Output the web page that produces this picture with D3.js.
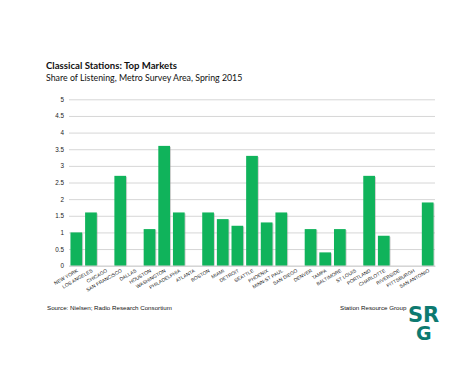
<!DOCTYPE html>
<html>
<head>
<meta charset="utf-8">
<script src="https://cdn.jsdelivr.net/npm/d3@7"></script>
<style>
  body { margin: 0; background: #fff; }
  svg { display: block; }
</style>
</head>
<body>
<div id="chart"></div>
<script>
// markets, in the order of the original chart
var markets = ["NEW YORK", "LOS ANGELES", "CHICAGO", "SAN FRANCISCO", "DALLAS", "HOUSTON",
    "WASHINGTON", "PHILADELPHIA", "ATLANTA", "BOSTON", "MIAMI", "DETROIT", "SEATTLE",
    "PHOENIX", "MINN-ST PAUL", "SAN DIEGO", "DENVER", "TAMPA", "BALTIMORE", "ST LOUIS",
    "PORTLAND", "CHARLOTTE", "RIVERSIDE", "PITTSBURGH", "SAN ANTONIO"];
// share of listening (null = no classical station)
var share = [1.0, 1.6, null, 2.7, null, 1.1, 3.6, 1.6, null, 1.6, 1.4, 1.2, 3.3,
    1.3, 1.6, null, 1.1, 0.4, 1.1, null, 2.7, 0.9, null, null, 1.9];
var yTicks = [0, 0.5, 1, 1.5, 2, 2.5, 3, 3.5, 4, 4.5, 5];

var width = 474, height = 366;
var plotLeft = 69, plotRight = 435, plotTop = 99.3, plotBottom = 265.7;

var svg = d3.select("#chart").append("svg")
    .attr("width", width)
    .attr("height", height);

var x = d3.scaleBand()
    .domain(markets)
    .range([plotLeft, plotRight])
    .paddingInner(0.2)
    .paddingOuter(0.1);

var y = d3.scaleLinear()
    .domain([0, 5])
    .range([plotBottom, plotTop]);

// titles
svg.append("text")
    .attr("x", 46).attr("y", 69)
    .style("font-family", "Lato, 'Open Sans', sans-serif")
    .style("font-weight", "bold")
    .style("font-size", "9.6px")
    .attr("fill", "#111")
    .text("Classical Stations: Top Markets");

svg.append("text")
    .attr("x", 46).attr("y", 81)
    .style("font-family", "Lato, 'Open Sans', sans-serif")
    .style("font-size", "8.8px")
    .attr("fill", "#111")
    .text("Share of Listening, Metro Survey Area, Spring 2015");

// grid + y labels
var yAxis = d3.axisLeft(y)
    .tickValues(yTicks)
    .tickSize(-(plotRight - plotLeft))
    .tickPadding(5)
    .tickFormat(d3.format("~g"));

var gy = svg.append("g")
    .attr("transform", "translate(" + plotLeft + ",0)")
    .call(yAxis);
gy.select(".domain").remove();
gy.selectAll("line").attr("stroke", "#d6d6d6").attr("stroke-width", 1);
gy.selectAll("text")
    .attr("fill", "#222")
    .style("font-family", "'Liberation Sans', Arial, sans-serif")
    .style("font-size", "6.3px");

var data = markets.map(function(m, i) { return {m: m, v: share[i]}; })
    .filter(function(d) { return d.v != null; });

// faint shadow to the right of each bar
svg.selectAll(".shadow")
    .data(data)
    .enter().append("rect")
    .attr("class", "shadow")
    .attr("x", function(d) { return x(d.m) + 1; })
    .attr("y", function(d) { return y(d.v) + 1; })
    .attr("width", x.bandwidth())
    .attr("height", function(d) { return y(0) - y(d.v) - 1; })
    .attr("fill", "#9a9a9a")
    .attr("opacity", 0.45);

svg.selectAll(".bar")
    .data(data)
    .enter().append("rect")
    .attr("class", "bar")
    .attr("x", function(d) { return x(d.m); })
    .attr("y", function(d) { return y(d.v); })
    .attr("width", x.bandwidth())
    .attr("height", function(d) { return y(0) - y(d.v); })
    .attr("fill", "#10b35b");

// x axis labels, rotated
var xAxis = d3.axisBottom(x).tickSize(0).tickPadding(0);
var gx = svg.append("g")
    .attr("transform", "translate(0," + plotBottom + ")")
    .call(xAxis);
gx.select(".domain").attr("stroke", "#cfcfcf");
gx.selectAll("text")
    .attr("text-anchor", "end")
    .attr("y", 0)
    .attr("dy", 0)
    .attr("transform", "translate(2,6) rotate(-30)")
    .attr("fill", "#222")
    .style("font-family", "'Liberation Sans', Arial, sans-serif")
    .style("font-size", "4.9px");

// footer
svg.append("text")
    .attr("x", 47).attr("y", 310)
    .style("font-family", "'Liberation Sans', Arial, sans-serif")
    .style("font-size", "6.2px")
    .attr("fill", "#111")
    .text("Source: Nielsen; Radio Research Consortium");

svg.append("text")
    .attr("x", 340).attr("y", 310)
    .style("font-family", "'Liberation Sans', Arial, sans-serif")
    .style("font-size", "6.2px")
    .attr("fill", "#111")
    .text("Station Resource Group");

// SRG logo letters
var logo = svg.append("g")
    .style("font-family", "'DejaVu Sans', sans-serif")
    .style("font-weight", "bold")
    .attr("fill", "#0d7a70");
logo.append("text").attr("x", 408).attr("y", 322).style("font-size", "21px").text("S");
logo.append("text").attr("x", 423).attr("y", 322).style("font-size", "21px").text("R");
logo.append("text").attr("x", 416).attr("y", 340).style("font-size", "19px").text("G");
</script>
</body>
</html>
